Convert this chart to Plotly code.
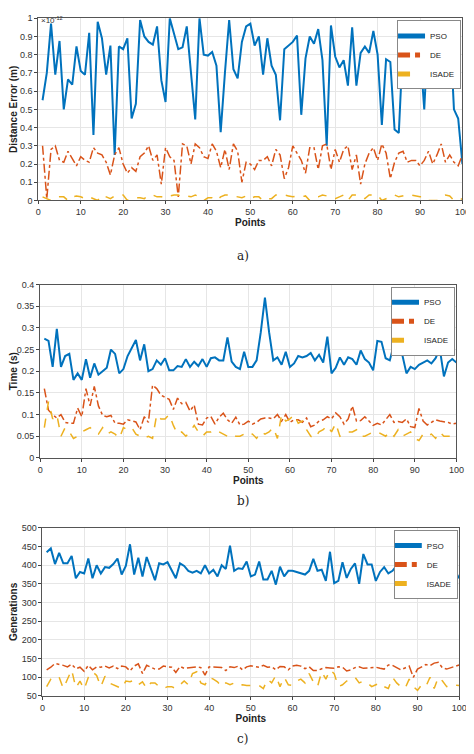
import plotly.graph_objects as go

points = list(range(1, 101))

# a) distance error (x1e-12 m)
pso_a = [.55,.7,.97,.69,.875,.5,.665,.635,.845,.71,.69,.92,.36,.98,.89,.69,.85,.25,.845,.83,
         .89,.45,.53,.99,.9,.87,.855,.955,.66,.54,1.0,.91,.83,.84,.955,.7,.445,1.0,.8,.795,
         .815,.74,.375,.7,.99,.72,.67,.87,.955,.97,.85,.9,.69,.89,.74,.69,.44,.83,.85,.87,
         .905,.47,.78,.9,.86,.94,.77,.3,.96,.79,.73,.77,.63,.95,.63,.81,.845,.81,.93,.8,
         .415,.775,.76,.39,.37,.865,.875,.975,.95,.83,.5,.97,.66,.83,.97,.85,.98,.5,.45,.2]
de_a = [.3,.01,.28,.3,.22,.21,.27,.23,.19,.24,.22,.21,.29,.26,.25,.21,.14,.25,.29,.2,
        .15,.18,.16,.24,.26,.3,.22,.25,.09,.29,.24,.22,.02,.31,.3,.2,.31,.29,.24,.23,
        .31,.27,.18,.28,.17,.31,.27,.1,.21,.2,.17,.22,.22,.24,.19,.28,.25,.12,.18,.3,
        .26,.22,.15,.29,.29,.17,.3,.31,.17,.28,.21,.28,.3,.17,.25,.09,.2,.26,.29,.22,
        .31,.26,.12,.21,.26,.27,.21,.22,.22,.19,.22,.27,.2,.25,.31,.21,.25,.21,.19,.25]
isade_a = [.02,.01,.0,.01,.02,.02,.0,.02,.025,.02,.01,.02,.01,.0,.03,.02,.01,.025,.03,.03,
           .0,.01,.015,.015,.01,.03,.03,.02,.02,.015,.025,.03,.03,.02,.025,.02,.03,.02,.0,.015,
           .015,.0,.02,.03,.03,.025,.02,.015,.025,.01,.02,.02,.0,.01,.01,.03,.03,.03,.025,.02,
           .025,.02,.025,.0,.02,.02,.03,.025,.015,.01,.02,.03,.0,.03,.03,.025,.01,.03,.03,.03,
           .0,.01,.02,.03,.02,.025,.03,.03,.025,.02,.02,.0,.0,.0,.02,.03,.025,.0,.0,.01]

# b) time (s)
pso_b = [.275,.27,.21,.298,.21,.235,.24,.18,.195,.18,.228,.185,.218,.192,.2,.208,.25,.24,.195,.205,
         .235,.255,.272,.225,.262,.2,.205,.225,.215,.23,.202,.202,.212,.21,.228,.21,.222,.212,.228,.21,
         .23,.232,.225,.225,.278,.222,.21,.205,.245,.21,.21,.225,.29,.37,.29,.225,.232,.215,.245,.21,
         .218,.235,.232,.235,.242,.225,.238,.22,.28,.195,.208,.232,.215,.232,.228,.215,.248,.228,.22,.202,
         .27,.268,.23,.225,.262,.245,.238,.195,.21,.205,.215,.22,.225,.218,.23,.252,.188,.22,.228,.22]
de_b = [.16,.11,.1,.092,.1,.082,.08,.08,.115,.095,.16,.12,.165,.12,.098,.095,.098,.08,.08,.078,
        .088,.086,.083,.065,.095,.082,.168,.16,.145,.14,.135,.112,.138,.125,.128,.108,.122,.078,.076,.092,
        .096,.078,.094,.103,.088,.08,.094,.076,.078,.085,.078,.082,.09,.092,.092,.09,.1,.085,.1,.082,
        .088,.088,.082,.092,.072,.076,.085,.088,.095,.09,.104,.095,.078,.09,.12,.085,.086,.095,.085,.075,
        .08,.076,.088,.1,.082,.084,.082,.09,.072,.07,.114,.085,.076,.082,.088,.085,.084,.082,.078,.08]
isade_b = [.07,.13,.09,.1,.05,.07,.06,.045,.05,.06,.065,.07,.06,.055,.07,.055,.06,.055,.045,.07,
           .065,.07,.055,.05,.045,.05,.045,.1,.09,.09,.1,.075,.055,.06,.05,.06,.075,.06,.05,.06,
           .06,.065,.06,.055,.05,.055,.05,.05,.055,.05,.055,.045,.06,.055,.06,.07,.045,.1,.085,.09,
           .1,.08,.085,.065,.05,.045,.06,.065,.075,.06,.08,.05,.055,.06,.06,.065,.05,.05,.055,.06,
           .06,.055,.05,.06,.05,.065,.05,.055,.06,.045,.04,.055,.05,.055,.045,.06,.05,.05,.05,.048]

# c) generations
pso_c = [435,445,403,433,405,405,425,365,382,378,418,365,400,378,395,393,403,418,375,398,
         456,375,420,370,422,390,360,405,402,408,385,365,405,398,385,380,385,378,400,378,
         388,370,400,390,452,385,392,390,410,370,375,410,362,362,385,348,396,370,385,385,
         382,378,375,385,417,385,388,358,436,352,358,408,366,390,405,350,430,402,402,358,
         382,395,378,385,398,413,400,352,391,375,392,381,395,402,405,440,358,360,385,365]
de_c = [120,127,137,135,132,128,135,123,127,116,132,120,128,127,130,125,130,123,130,128,
        117,130,136,110,132,127,122,122,130,128,127,113,129,124,125,127,128,126,106,128,
        127,128,126,118,128,126,130,120,128,131,130,127,132,127,128,120,129,128,120,130,
        132,130,123,128,118,118,123,126,125,124,128,127,117,120,126,128,124,125,128,127,
        124,122,133,132,126,120,125,130,100,122,128,134,131,138,140,125,122,125,128,133]
isade_c = [75,95,103,100,70,95,120,72,90,68,100,115,105,75,103,85,80,75,70,90,
           88,92,80,88,70,85,85,75,70,75,75,70,80,90,80,110,115,85,80,100,
           95,88,75,85,80,85,78,80,78,78,80,78,70,95,85,105,75,100,80,78,
           90,95,85,110,88,75,115,95,120,110,75,80,90,95,100,85,90,85,75,80,
           85,75,70,100,85,75,70,95,75,65,80,75,100,70,100,90,75,80,78,78]

names = ["PSO", "DE", "ISADE"]
colors = ["#0072BD", "#D95319", "#EDB120"]
dashes = ["solid", "dashdot", "dash"]
widths = [2, 1.5, 1.5]

panels = [
    ([pso_a, de_a, isade_a], "Distance Error (m)", [0, 1], 0.1, [0.059, 0.975], [0.748, 0.993]),
    ([pso_b, de_b, isade_b], "Time (s)", [0, 0.4], 0.05, [0.063, 0.962], [0.402, 0.635]),
    ([pso_c, de_c, isade_c], "Generations", [50, 500], 50, [0.068, 0.968], [0.082, 0.308]),
]

fig = go.Figure()
for i, (series, ytitle, yr, dt, xd, yd) in enumerate(panels):
    n = "" if i == 0 else str(i + 1)
    for s, name, c, d, w in zip(series, names, colors, dashes, widths):
        fig.add_trace(go.Scatter(x=points, y=s, name=name, mode="lines",
                                 line=dict(color=c, dash=d, width=w),
                                 xaxis="x" + n, yaxis="y" + n, legend="legend" + n))
    ax = dict(showline=True, mirror=True, linecolor="#555", gridcolor="#e6e6e6",
              ticks="outside", ticklen=3, zeroline=False,
              tickfont=dict(size=9, family="Liberation Sans", color="#333"))
    fig.layout["xaxis" + n] = dict(ax, domain=xd, anchor="y" + n, range=[0, 100], dtick=10,
                                   title=dict(text="<b>Points</b>", font=dict(size=10), standoff=0))
    fig.layout["yaxis" + n] = dict(ax, domain=yd, anchor="x" + n, range=yr, dtick=dt,
                                   title=dict(text="<b>" + ytitle + "</b>", font=dict(size=10), standoff=2))
    fig.layout["legend" + n] = dict(x=xd[1] - 0.003, y=yd[1] - 0.003, xanchor="right", yanchor="top",
                                    bgcolor="white", bordercolor="#888", borderwidth=1,
                                    font=dict(size=8), tracegroupgap=0, itemwidth=30,
                                    indentation=-8, itemsizing="constant")

fig.add_annotation(text="×10<sup>-12</sup>", x=0.06, y=1.0, xref="paper", yref="paper",
                   xanchor="left", yanchor="top", showarrow=False, font=dict(size=8, color="#333"))
for lab, yy in [("a)", 237), ("b)", 495), ("c)", 745)]:
    fig.add_annotation(text=lab, x=0.5, y=1 - yy / 754, xref="paper", yref="paper",
                       showarrow=False, font=dict(size=12, family="DejaVu Serif", color="#222"))

fig.update_layout(width=474, height=754, margin=dict(l=0, r=0, t=0, b=0),
                  plot_bgcolor="white", paper_bgcolor="white",
                  font=dict(family="Liberation Sans", color="#222"))
fig.write_html("out.html")
